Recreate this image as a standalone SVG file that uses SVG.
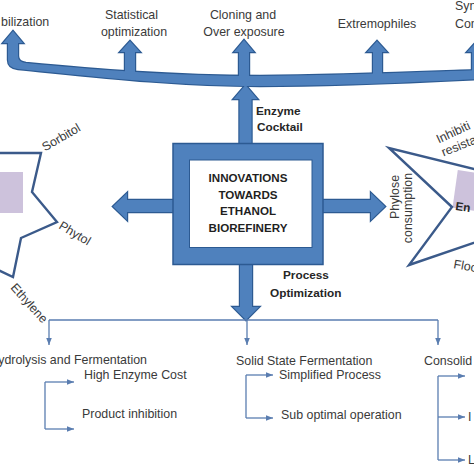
<svg xmlns="http://www.w3.org/2000/svg" width="474" height="474" viewBox="0 0 474 474">
<style>
text{font-family:"Liberation Sans",Arial,sans-serif;fill:#3a3a3a}
.t{font-size:12.4px}
.b{font-size:11.8px;font-weight:bold;fill:#262626}
.c{font-size:11.6px;font-weight:bold;fill:#1f1f1f;text-anchor:middle}
.m{text-anchor:middle}
.e{text-anchor:end}
.b-out{fill:#4f81bd;stroke:#2c5a92;stroke-width:2.4;stroke-linejoin:miter}
.b-in{fill:#4f81bd;stroke:none}
.thin{fill:none;stroke:#5a7db0;stroke-width:1.3}
.star{fill:none;stroke:#3b5a8a;stroke-width:2.4;stroke-linejoin:miter}
.lav{fill:#cdc2dc}
</style>
<defs>
<marker id="ah" viewBox="0 0 10 10" refX="10" refY="5" markerWidth="7" markerHeight="7" markerUnits="userSpaceOnUse" orient="auto">
<path d="M0,1 L10,5 L0,9 Z" fill="#5a7db0"/>
</marker>
<g id="blue-shapes">
<path d="M8,43 L8,60 Q8,68 18,69 C80,75 170,86 260,86 C340,86 420,82 480,79 L480,70 C420,72 340,75 260,76 C170,76 90,69 26,63 Q18,62 18,56 L18,43 Z"/>
<polygon points="3,43 13,31 23,43"/>
<polygon points="125,52 125,73 135,74 135,52 140,52 130,41 120,52"/>
<polygon points="239,52 239,78 249,78 249,52 254,52 244,40 234,52"/>
<polygon points="373,52 373,78 382,78 382,52 387,52 377,41 367,52"/>
<polygon points="472,52 472,76 482,76 482,52 487,52 477,41 467,52"/>
<polygon points="239.5,150 239.5,99 233.5,99 245.5,85 257.5,99 251.5,99 251.5,150"/>
<polygon points="240,258 240,307 233,307 246,320 259,307 252,307 252,258"/>
<polygon points="180,200 127,200 127,193 113,206.5 127,220 127,212 180,212"/>
<polygon points="316,200 371,200 371,193 385,206.5 371,220 371,212 316,212"/>
</g>
</defs>
<rect width="474" height="474" fill="#ffffff"/>

<g id="connectors">
<use href="#blue-shapes" class="b-out"/>
<use href="#blue-shapes" class="b-in"/>
<path class="thin" d="M49,320 H438"/>
<path class="thin" d="M49,320 V345" marker-end="url(#ah)"/>
<path class="thin" d="M247,320 V345" marker-end="url(#ah)"/>
<path class="thin" d="M438,320 V345" marker-end="url(#ah)"/>
<path class="thin" d="M45,382 V429"/>
<path class="thin" d="M45,382 H74" marker-end="url(#ah)"/>
<path class="thin" d="M45,429 H74" marker-end="url(#ah)"/>
<path class="thin" d="M246,375 V418"/>
<path class="thin" d="M246,375 H273" marker-end="url(#ah)"/>
<path class="thin" d="M246,418 H273" marker-end="url(#ah)"/>
<path class="thin" d="M438,376 V460"/>
<path class="thin" d="M438,376 H465" marker-end="url(#ah)"/>
<path class="thin" d="M438,417 H465" marker-end="url(#ah)"/>
<path class="thin" d="M438,460 H465" marker-end="url(#ah)"/>
</g>

<g id="center-box">
<rect x="173" y="143.5" width="150" height="121" fill="#4f81bd" stroke="#2c5a92" stroke-width="1.5"/>
<rect x="189.5" y="160" width="122.5" height="87.5" fill="#ffffff" stroke="#2c5a92" stroke-width="1"/>
<text class="c" x="248" y="182">INNOVATIONS</text>
<text class="c" x="248" y="198.5">TOWARDS</text>
<text class="c" x="248" y="215">ETHANOL</text>
<text class="c" x="248" y="232">BIOREFINERY</text>
</g>

<g id="top-labels">
<text class="t" x="1" y="26">bilization</text>
<text class="t m" x="131.5" y="19">Statistical</text>
<text class="t m" x="134" y="36">optimization</text>
<text class="t m" x="243" y="19">Cloning and</text>
<text class="t m" x="244" y="36">Over exposure</text>
<text class="t m" x="377" y="28">Extremophiles</text>
<text class="t" x="455" y="10">Syn</text>
<text class="t" x="455" y="28">Con</text>
</g>

<g id="enzyme-cocktail">
<text class="b" x="256" y="115">Enzyme</text>
<text class="b" x="257" y="131">Cocktail</text>
</g>

<g id="process-optimization">
<text class="b" x="283" y="279">Process</text>
<text class="b" x="270" y="297">Optimization</text>
</g>

<g id="left-star">
<rect class="lav" x="-2" y="172" width="25" height="41"/>
<polygon class="star" points="-6,153 41,153 32,192 57,222 21,238 13,277 -6,268"/>
<text class="t" transform="translate(45,151.5) rotate(-30)">Sorbitol</text>
<text class="t" transform="translate(58,228) rotate(31)">Phytol</text>
<text class="t" transform="translate(10,288) rotate(48)">Ethylene</text>
</g>

<g id="right-star">
<rect class="lav" x="455" y="172" width="30" height="38" transform="rotate(8 470 191)"/>
<polygon class="star" points="482,171 389,148 452,207 409,265 482,240"/>
<text class="t" transform="translate(438.7,143.6) rotate(-25)">Inhibiti</text>
<text class="t" transform="translate(443.5,156.6) rotate(-22)">resista</text>
<text class="t m" transform="translate(399,197) rotate(-90)">Phylose</text>
<text class="t m" transform="translate(411.5,208) rotate(-90)">consumption</text>
<text class="b" transform="translate(455,210) rotate(8)">En</text>
<text class="t" transform="translate(453,268) rotate(10)">Floc</text>
</g>

<g id="shf">
<text class="t e" x="147" y="364">ydrolysis and Fermentation</text>
<text class="t" x="84" y="379">High Enzyme Cost</text>
<text class="t" x="82" y="418">Product inhibition</text>
</g>

<g id="ssf">
<text class="t" x="236" y="364.5">Solid State Fermentation</text>
<text class="t" x="279" y="379">Simplified Process</text>
<text class="t" x="281" y="419">Sub optimal operation</text>
</g>

<g id="cbp">
<text class="t" x="424" y="365">Consolid</text>
<text class="t" x="468" y="421">I</text>
<text class="t" x="468" y="464">L</text>
</g>
</svg>
